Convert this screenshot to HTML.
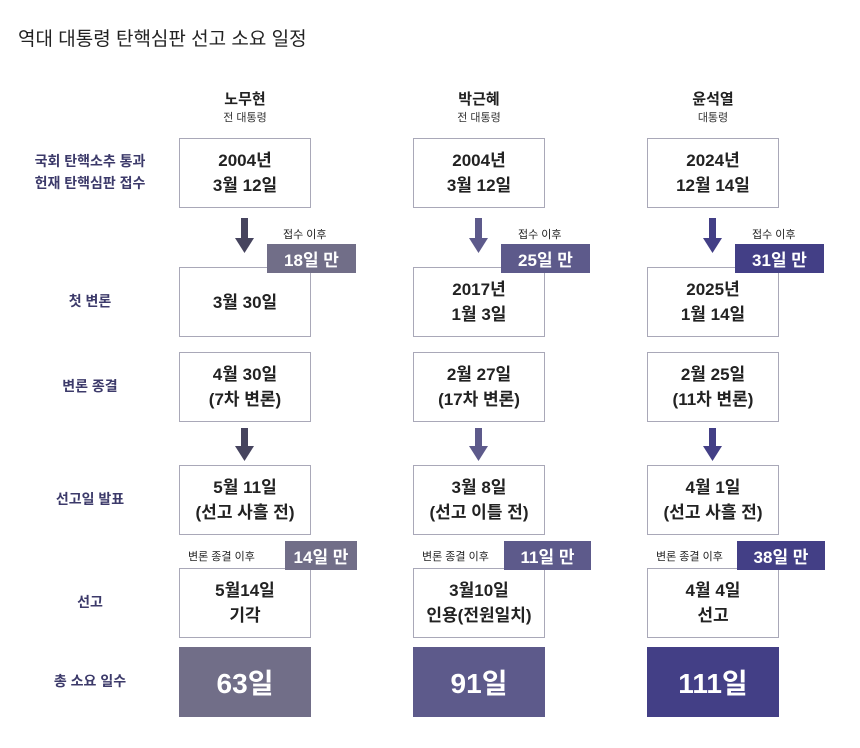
<!DOCTYPE html>
<html><head><meta charset="utf-8"><style>
body{margin:0;background:#fff;font-family:"Liberation Sans","Noto Sans CJK KR",sans-serif;color:#222}
#c{position:relative;width:860px;height:748px;overflow:hidden}
.a{position:absolute}
.box{position:absolute;box-sizing:border-box;border:1.5px solid #a9a8b8;background:#fff;display:flex;align-items:center;justify-content:center;text-align:center;font-weight:bold;font-size:17px;line-height:25px;color:#222}
.lab{position:absolute;left:10px;width:160px;text-align:center;font-weight:bold;font-size:14px;color:#3c3a6a;line-height:22px}
.hd{position:absolute;width:132px;text-align:center}
.hd b{display:block;font-size:15px;line-height:20px}
.hd span{display:block;font-size:11px;color:#333;line-height:16px}
.tot{position:absolute;color:#fff;font-weight:bold;font-size:28px;display:flex;align-items:center;justify-content:center}
.bd{position:absolute;height:29px;color:#fff;font-weight:bold;font-size:17px;display:flex;align-items:center;justify-content:center}
.sm{position:absolute;font-size:11px;color:#222}
</style></head><body><div id="c">
<div class="a" style="left:18px;top:24px;font-size:19px">역대 대통령 탄핵심판 선고 소요 일정</div>

<div class="hd" style="left:179px;top:90px"><b>노무현</b><span>전 대통령</span></div>
<div class="hd" style="left:413px;top:90px"><b>박근혜</b><span>전 대통령</span></div>
<div class="hd" style="left:647px;top:90px"><b>윤석열</b><span>대통령</span></div>

<div class="lab" style="top:150px">국회 탄핵소추 통과<br>헌재 탄핵심판 접수</div>
<div class="lab" style="top:290px">첫 변론</div>
<div class="lab" style="top:375px">변론 종결</div>
<div class="lab" style="top:488px">선고일 발표</div>
<div class="lab" style="top:591px">선고</div>
<div class="lab" style="top:670px">총 소요 일수</div>

<!-- col1 -->
<div class="box" style="left:179px;top:138px;width:132px;height:70px">2004년<br>3월 12일</div>
<div class="box" style="left:179px;top:267px;width:132px;height:70px">3월 30일</div>
<div class="box" style="left:179px;top:352px;width:132px;height:70px">4월 30일<br>(7차 변론)</div>
<div class="box" style="left:179px;top:465px;width:132px;height:70px">5월 11일<br>(선고 사흘 전)</div>
<div class="box" style="left:179px;top:568px;width:132px;height:70px">5월14일<br>기각</div>
<div class="tot" style="left:179px;top:647px;width:132px;height:70px;background:#716e88">63일</div>
<!-- col2 -->
<div class="box" style="left:413px;top:138px;width:132px;height:70px">2004년<br>3월 12일</div>
<div class="box" style="left:413px;top:267px;width:132px;height:70px">2017년<br>1월 3일</div>
<div class="box" style="left:413px;top:352px;width:132px;height:70px">2월 27일<br>(17차 변론)</div>
<div class="box" style="left:413px;top:465px;width:132px;height:70px">3월 8일<br>(선고 이틀 전)</div>
<div class="box" style="left:413px;top:568px;width:132px;height:70px">3월10일<br>인용(전원일치)</div>
<div class="tot" style="left:413px;top:647px;width:132px;height:70px;background:#5d5a8b">91일</div>
<!-- col3 -->
<div class="box" style="left:647px;top:138px;width:132px;height:70px">2024년<br>12월 14일</div>
<div class="box" style="left:647px;top:267px;width:132px;height:70px">2025년<br>1월 14일</div>
<div class="box" style="left:647px;top:352px;width:132px;height:70px">2월 25일<br>(11차 변론)</div>
<div class="box" style="left:647px;top:465px;width:132px;height:70px">4월 1일<br>(선고 사흘 전)</div>
<div class="box" style="left:647px;top:568px;width:132px;height:70px">4월 4일<br>선고</div>
<div class="tot" style="left:647px;top:647px;width:132px;height:70px;background:#433f86">111일</div>

<!-- arrows -->
<svg class="a" style="left:0;top:0" width="860" height="748">
<g fill="#46445e"><rect x="241" y="218" width="7" height="22"/><polygon points="235,238 254,238 244.5,253"/><rect x="241" y="428" width="7" height="20"/><polygon points="235,446 254,446 244.5,461"/></g>
<g fill="#5d5a8b"><rect x="475" y="218" width="7" height="22"/><polygon points="469,238 488,238 478.5,253"/><rect x="475" y="428" width="7" height="20"/><polygon points="469,446 488,446 478.5,461"/></g>
<g fill="#433f86"><rect x="709" y="218" width="7" height="22"/><polygon points="703,238 722,238 712.5,253"/><rect x="709" y="428" width="7" height="20"/><polygon points="703,446 722,446 712.5,461"/></g>
</svg>

<!-- badges -->
<div class="sm" style="left:283px;top:226px">접수 이후</div>
<div class="bd" style="left:267px;top:244px;width:89px;background:#716e88">18일 만</div>
<div class="sm" style="left:518px;top:226px">접수 이후</div>
<div class="bd" style="left:501px;top:244px;width:89px;background:#5d5a8b">25일 만</div>
<div class="sm" style="left:752px;top:226px">접수 이후</div>
<div class="bd" style="left:735px;top:244px;width:89px;background:#433f86">31일 만</div>

<div class="sm" style="left:188px;top:548px">변론 종결 이후</div>
<div class="bd" style="left:285px;top:541px;width:72px;background:#716e88">14일 만</div>
<div class="sm" style="left:422px;top:548px">변론 종결 이후</div>
<div class="bd" style="left:504px;top:541px;width:87px;background:#5d5a8b">11일 만</div>
<div class="sm" style="left:656px;top:548px">변론 종결 이후</div>
<div class="bd" style="left:737px;top:541px;width:88px;background:#433f86">38일 만</div>
</div></body></html>
